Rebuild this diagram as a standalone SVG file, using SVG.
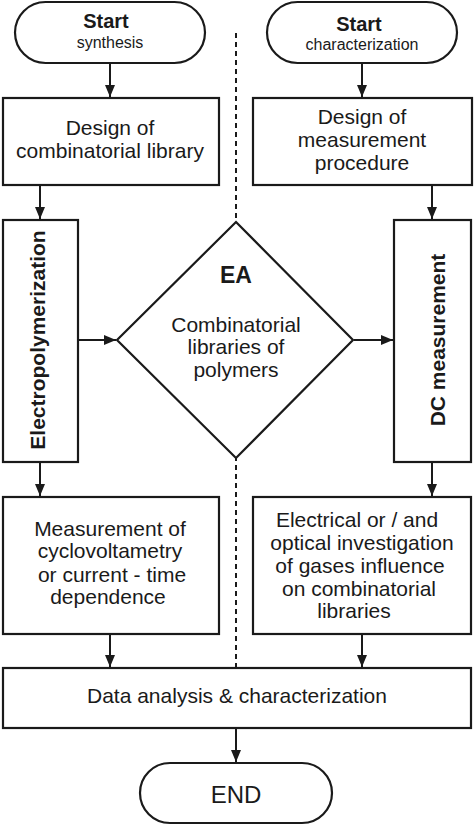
<svg xmlns="http://www.w3.org/2000/svg" width="474" height="827" viewBox="0 0 474 827">
<style>
.box{fill:#fff;stroke:#1a1a1a;stroke-width:2.2}
.t{font-family:"Liberation Sans",Arial,sans-serif;font-size:21px;fill:#1a1a1a;text-anchor:middle}
.b{font-weight:bold}
.s{font-size:16px}
.c{stroke:#1a1a1a;stroke-width:2;fill:none;marker-end:url(#ah)}
</style>
<defs>
<marker id="ah" markerUnits="userSpaceOnUse" markerWidth="12" markerHeight="12" viewBox="0 0 12 12" refX="12" refY="6" orient="auto">
<path d="M0,1 L12,6 L0,11 Z" fill="#1a1a1a"/>
</marker>
</defs>
<rect width="474" height="827" fill="#fff"/>
<line x1="236" y1="33" x2="236" y2="667" stroke="#1a1a1a" stroke-width="2" stroke-dasharray="5,4"/>
<g id="connectors">
<line class="c" x1="110" y1="63" x2="110" y2="97"/>
<line class="c" x1="362" y1="63" x2="362" y2="97"/>
<line class="c" x1="40" y1="185" x2="40" y2="219"/>
<line class="c" x1="432" y1="185" x2="432" y2="219"/>
<line class="c" x1="78" y1="340" x2="116" y2="340"/>
<line class="c" x1="354" y1="340" x2="393" y2="340"/>
<line class="c" x1="40" y1="462" x2="40" y2="496"/>
<line class="c" x1="432" y1="462" x2="432" y2="496"/>
<line class="c" x1="110" y1="634" x2="110" y2="667"/>
<line class="c" x1="362" y1="634" x2="362" y2="667"/>
<line class="c" x1="236" y1="728" x2="236" y2="762"/>
</g>
<g id="start-synthesis">
<rect class="box" x="15" y="2" width="190" height="61" rx="30.5"/>
<text class="t b" x="106" y="28" style="font-size:20px">Start</text>
<text class="t s" x="110" y="48">synthesis</text>
</g>
<g id="start-characterization">
<rect class="box" x="267" y="2" width="190" height="61" rx="30.5"/>
<text class="t b" x="359" y="31" style="font-size:20px">Start</text>
<text class="t s" x="362" y="50">characterization</text>
</g>
<g id="design-library">
<rect class="box" x="3" y="98" width="216" height="87"/>
<text class="t" x="110" y="135">Design of</text>
<text class="t" x="110" y="158">combinatorial library</text>
</g>
<g id="design-measurement">
<rect class="box" x="253" y="98" width="219" height="87"/>
<text class="t" x="362" y="124">Design of</text>
<text class="t" x="362" y="147">measurement</text>
<text class="t" x="362" y="170">procedure</text>
</g>
<g id="electropolymerization">
<rect class="box" x="3" y="220" width="75" height="242"/>
<text class="t b" transform="translate(45,340) rotate(-90)">Electropolymerization</text>
</g>
<g id="ea">
<polygon class="box" points="236,222 353,340 236,458 117,340"/>
<text class="t b" x="236" y="283" style="font-size:23px">EA</text>
<text class="t" x="236" y="332">Combinatorial</text>
<text class="t" x="236" y="354">libraries of</text>
<text class="t" x="236" y="377">polymers</text>
</g>
<g id="dc-measurement">
<rect class="box" x="394" y="220" width="77" height="242"/>
<text class="t b" transform="translate(445,340) rotate(-90)">DC measurement</text>
</g>
<g id="measurement-cv">
<rect class="box" x="3" y="497" width="216" height="137"/>
<text class="t" x="110" y="536">Measurement of</text>
<text class="t" x="110" y="558">cyclovoltametry</text>
<text class="t" x="112" y="582">or current - time</text>
<text class="t" x="108" y="604">dependence</text>
</g>
<g id="investigation">
<rect class="box" x="253" y="497" width="218" height="137"/>
<text class="t" x="357" y="527">Electrical or / and</text>
<text class="t" x="362" y="550">optical investigation</text>
<text class="t" x="360" y="573">of gases influence</text>
<text class="t" x="359" y="596">on combinatorial</text>
<text class="t" x="354" y="618">libraries</text>
</g>
<g id="data-analysis">
<rect class="box" x="3" y="668" width="468" height="60"/>
<text class="t" x="237" y="703">Data analysis &amp; characterization</text>
</g>
<g id="end">
<rect class="box" x="140" y="763" width="192" height="60" rx="30"/>
<text class="t" x="236" y="803" style="font-size:24px">END</text>
</g>
</svg>
